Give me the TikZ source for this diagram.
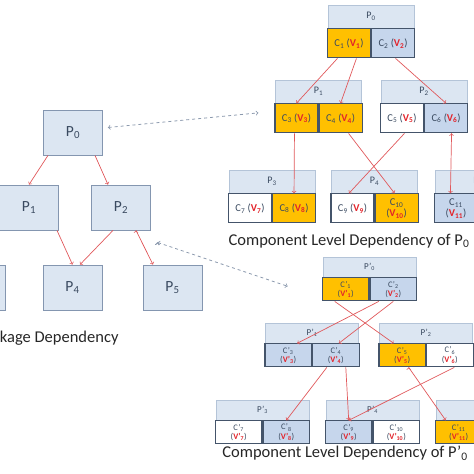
\documentclass[tikz,border=0pt]{standalone}
\usepackage{fontspec}
\setmainfont{Carlito}
\usetikzlibrary{positioning}

\definecolor{boxfill}{HTML}{DCE6F2}
\definecolor{boxline}{HTML}{8496B0}
\definecolor{headline}{HTML}{B4C4D8}
\definecolor{cellline}{HTML}{44546A}
\definecolor{cellblue}{HTML}{C6D6EC}
\definecolor{cellorange}{HTML}{FFC000}
\definecolor{txt}{HTML}{3A4A60}
\definecolor{vred}{HTML}{E3242B}
\definecolor{deparrow}{HTML}{E0585B}
\definecolor{linkarrow}{HTML}{8C9AAE}

\newcommand{\cv}[1]{C\textsubscript{#1} (\textcolor{vred}{\textbf{V\textsubscript{#1}}})}
\newcommand{\cvtwo}[1]{C\textsubscript{#1}\\(\textcolor{vred}{\textbf{V\textsubscript{#1}}})}
\newcommand{\cvp}[1]{C’\textsubscript{#1}\\(\textcolor{vred}{\textbf{V’\textsubscript{#1}}})}

\begin{document}
\begin{tikzpicture}[x=1pt,y=-1pt,
	pkg/.style={draw=boxline,fill=boxfill,line width=0.8pt,minimum width=59pt,minimum height=45pt,text=txt,font=\fontsize{15.5}{18}\selectfont},
	head/.style={draw=headline,fill=boxfill,line width=0.6pt,minimum width=86pt,minimum height=23pt,text=txt,font=\fontsize{10}{11}\selectfont},
	cell/.style={draw=cellline,line width=1.1pt,minimum width=43pt,minimum height=29pt,inner sep=1pt,align=center,text=txt,font=\fontsize{10.5}{11}\selectfont},
	headp/.style={head,minimum width=93pt,minimum height=20pt,font=\fontsize{9}{10}\selectfont},
	cellp/.style={cell,minimum width=46.5pt,minimum height=23pt,font=\fontsize{8.5}{9.5}\selectfont},
	title/.style={text=black!85,font=\fontsize{16.5}{19}\selectfont},
	dep/.style={draw=deparrow,line width=0.7pt,->},
	link/.style={draw=linkarrow,line width=0.8pt,dashed,<->}]
		\useasboundingbox (0,0) rectangle (474,474);
		\clip (0,0) rectangle (474,474);
		% package level
		\draw (73,132.5) node [pkg] (lp0) {P\textsubscript{0}};
		\draw (29,207.5) node [pkg] (lp1) {P\textsubscript{1}};
		\draw (121,207.5) node [pkg] (lp2) {P\textsubscript{2}};
		\draw (-24,287.5) node [pkg] (lp3) {};
		\draw (72.5,287.5) node [pkg] (lp4) {P\textsubscript{4}};
		\draw (172.5,287.5) node [pkg] (lp5) {P\textsubscript{5}};
		\draw (122,338) node [title,anchor=east] (pkgtitle) {kage Dependency};
		\path[dep]
			([xshift=-25pt]lp0.south) edge (lp1.north)
			([xshift=22pt]lp0.south) edge ([xshift=-13pt]lp2.north)
			([xshift=28pt]lp1.south) edge (lp4.north)
			([xshift=-8pt]lp2.south) edge ([xshift=7.5pt]lp4.north)
			([xshift=15pt]lp2.south) edge ([xshift=-19.5pt]lp5.north);
		% component level of P0
		\draw (371,16.5) node [head] (p0) {P\textsubscript{0}};
		\draw (p0.south) node [cell,fill=cellorange,anchor=north east] (c1) {\cv{1}};
		\draw (p0.south) node [cell,fill=cellblue,anchor=north west] (c2) {\cv{2}};
		\draw (318.5,91.5) node [head] (p1) {P\textsubscript{1}};
		\draw (p1.south) node [cell,fill=cellorange,anchor=north east] (c3) {\cv{3}};
		\draw (p1.south) node [cell,fill=cellorange,anchor=north west] (c4) {\cv{4}};
		\draw (424,91.5) node [head] (p2) {P\textsubscript{2}};
		\draw (p2.south) node [cell,fill=white,anchor=north east] (c5) {\cv{5}};
		\draw (p2.south) node [cell,fill=cellblue,anchor=north west] (c6) {\cv{6}};
		\draw (272,181.5) node [head] (p3) {P\textsubscript{3}};
		\draw (p3.south) node [cell,fill=white,anchor=north east] (c7) {\cv{7}};
		\draw (p3.south) node [cell,fill=cellorange,anchor=north west] (c8) {\cv{8}};
		\draw (374.5,181.5) node [head] (p4) {P\textsubscript{4}};
		\draw (p4.south) node [cell,fill=white,anchor=north east] (c9) {\cv{9}};
		\draw (p4.south) node [cell,fill=cellorange,anchor=north west] (c10) {\cvtwo{10}};
		\draw (478,181.5) node [head] (p5) {P\textsubscript{5}};
		\draw (p5.south) node [cell,fill=cellblue,anchor=north east] (c11) {\cvtwo{11}};
		\draw (349,241) node [title] (title0) {Component Level Dependency of P\textsubscript{0}};
		\path[dep]
			([xshift=-11.5pt]c1.south) edge (c3.north)
			([xshift=7.5pt]c1.south) edge (c4.north)
			([xshift=2.5pt]c2.south) edge (c6.north)
			([xshift=-2pt]c3.south) edge (c8.north)
			([xshift=8pt]c4.south) edge ([xshift=-2pt]c10.north)
			([xshift=2.5pt]c5.south) edge ([xshift=-3.5pt]c9.north)
			([xshift=5.5pt]c6.south) edge ([xshift=-5.5pt]c11.north);
		% component level of P'0
		\draw (369.5,267) node [headp] (q0) {P’\textsubscript{0}};
		\draw (q0.south) node [cellp,fill=cellorange,anchor=north east] (d1) {\cvp{1}};
		\draw (q0.south) node [cellp,fill=cellblue,anchor=north west] (d2) {\cvp{2}};
		\draw (312,333) node [headp] (q1) {P’\textsubscript{1}};
		\draw (q1.south) node [cellp,fill=cellblue,anchor=north east] (d3) {\cvp{3}};
		\draw (q1.south) node [cellp,fill=cellblue,anchor=north west] (d4) {\cvp{4}};
		\draw (426,333) node [headp] (q2) {P’\textsubscript{2}};
		\draw (q2.south) node [cellp,fill=cellorange,anchor=north east] (d5) {\cvp{5}};
		\draw (q2.south) node [cellp,fill=white,anchor=north west] (d6) {\cvp{6}};
		\draw (262.5,410) node [headp] (q3) {P’\textsubscript{3}};
		\draw (q3.south) node [cellp,fill=white,anchor=north east] (d7) {\cvp{7}};
		\draw (q3.south) node [cellp,fill=cellblue,anchor=north west] (d8) {\cvp{8}};
		\draw (372.5,410) node [headp] (q4) {P’\textsubscript{4}};
		\draw (q4.south) node [cellp,fill=cellblue,anchor=north east] (d9) {\cvp{9}};
		\draw (q4.south) node [cellp,fill=white,anchor=north west] (d10) {\cvp{10}};
		\draw (482.5,410) node [headp] (q5) {P’\textsubscript{5}};
		\draw (q5.south) node [cellp,fill=cellorange,anchor=north east] (d11) {\cvp{11}};
		\draw (345,453) node [title] (title1) {Component Level Dependency of P’\textsubscript{0}};
		\path[dep]
			([xshift=-11pt]d1.south) edge ([xshift=-8.5pt]d5.north)
			([xshift=-14.5pt]d2.south) edge ([xshift=9pt]d3.north)
			(d2.south) edge ([xshift=3pt]d4.north)
			([xshift=-9pt]d4.south) edge (d8.north)
			([xshift=10pt]d4.south) edge (d9.north)
			([xshift=4.5pt]d6.south) edge (d9.north)
			([xshift=6.5pt]d5.south) edge ([xshift=-13pt]d11.north);
		% links between levels
		\path[link]
			([shift={(5pt,5pt)}]lp0.east) edge ([shift={(-16pt,5.5pt)}]c3.west)
			([shift={(6.5pt,-12pt)}]lp2.south east) edge ([shift={(-35pt,-9pt)}]q0.south west);
	\end{tikzpicture}
\end{document}
